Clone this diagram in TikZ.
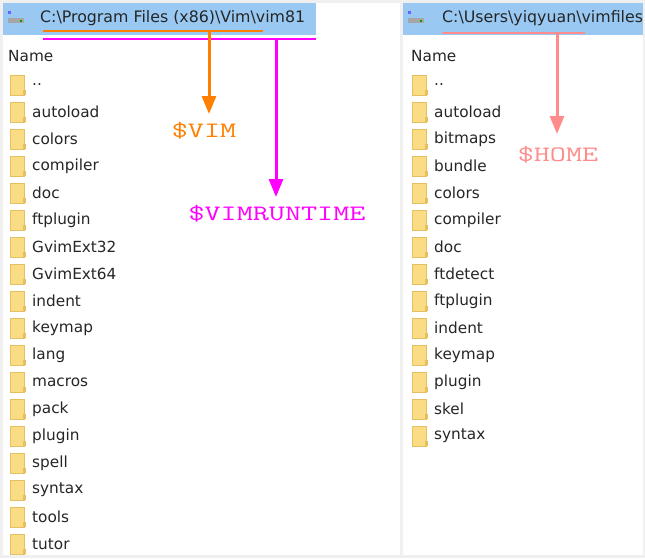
\documentclass[tikz,border=0pt]{standalone}
\usepackage{fontspec}
\setmainfont{DejaVu Sans}
\usetikzlibrary{arrows.meta}
\definecolor{bg}{HTML}{F0F0F0}
\definecolor{hdr}{HTML}{99C9F3}
\definecolor{fold}{HTML}{F9DC84}
\definecolor{foldb}{HTML}{E6C060}
\definecolor{vorange}{HTML}{FF7F00}
\definecolor{vmag}{HTML}{FF00FF}
\definecolor{vpink}{HTML}{FF8C8C}
\begin{document}
\begin{tikzpicture}[x=1pt,y=-1pt,
  item/.style={anchor=west,font=\fontsize{15.3}{16}\selectfont,text=black!85,inner sep=0},
  hdrtext/.style={anchor=west,font=\fontsize{15.8}{17}\selectfont,text=black!85,inner sep=0},
  lbl/.style={font=\ttfamily\fontsize{22}{22}\selectfont,inner sep=0,xscale=1.42},
  conn/.style={line width=3pt,-{Triangle[length=18pt,width=14pt]}}]
\useasboundingbox (0,0) rectangle (645,558);
\fill[bg] (0,0) rectangle (645,558);
\fill[white] (3,3) rectangle (400,555);
\fill[white] (403,3) rectangle (643,555);
\fill[hdr] (3,3) rectangle (316,35);
\fill[hdr] (403,3) rectangle (643,35);
% drive icons
\foreach \x in {8,408}{
  \fill[blue!60] (\x,11) rectangle ++(3,3);
  \fill[gray!70] (\x,18) rectangle ++(16,5);
  \fill[green!60!black] (\x+12,20) rectangle ++(2,1.5);
}
\node[hdrtext] (h1) at (40,18) {C:\textbackslash Program Files (x86)\textbackslash Vim\textbackslash vim81};
\node[hdrtext] (h2) at (442,18) {C:\textbackslash Users\textbackslash yiqyuan\textbackslash vimfiles};
\node[item] at (8,56) {Name};
\node[item] at (411,56) {Name};
\newcommand{\folder}[2]{%
  \fill[fold,draw=foldb,line width=0.5pt] (#1,#2-10) rectangle (#1+14,#2+10);
  \fill[foldb] (#1+13,#2+5) rectangle (#1+16,#2+10);}
\foreach \t [count=\i from 0] in {..,autoload,colors,compiler,doc,ftplugin,GvimExt32,GvimExt64,indent,keymap,lang,macros,pack,plugin,spell,syntax,tools,tutor}{
  \folder{10}{85+27*\i}
  \node[item] at (32,85+27*\i) {\t};
}
\foreach \t [count=\i from 0] in {..,autoload,bitmaps,bundle,colors,compiler,doc,ftdetect,ftplugin,indent,keymap,plugin,skel,syntax}{
  \folder{412}{85+27*\i}
  \node[item] at (434,85+27*\i) {\t};
}
% annotations
\coordinate (o1) at (43,31); \coordinate (o2) at (263,31);
\coordinate (m1) at (43,39); \coordinate (m2) at (316,39);
\coordinate (p1) at (442,33); \coordinate (p2) at (585,33);
\node[lbl,text=vorange] (vim) at (204,131) {\$VIM};
\node[lbl,text=vmag] (vrt) at (277,214) {\$VIMRUNTIME};
\node[lbl,text=vpink] (home) at (558,155) {\$HOME};
\draw[vorange,line width=2.5pt] (o1) -- (o2);
\draw[vmag,line width=2.5pt] (m1) -- (m2);
\draw[vpink,line width=2.5pt] (p1) -- (p2);
\draw[conn,vorange] (209,31) -- (209,114);
\draw[conn,vmag] (276,39) -- (276,197);
\draw[conn,vpink] (557,33) -- (557,134);
\end{tikzpicture}
\end{document}
